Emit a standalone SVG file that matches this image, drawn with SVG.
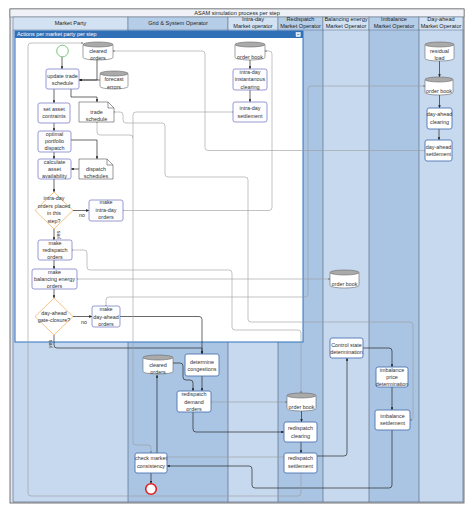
<svg xmlns="http://www.w3.org/2000/svg" width="474" height="514" viewBox="0 0 474 514">
<defs>
<marker id="arr" viewBox="0 0 6 6" refX="6" refY="3" markerWidth="4" markerHeight="4" orient="auto-start-reverse"><path d="M0,0 L6,3 L0,6 Z" fill="#222"/></marker>
<marker id="circ" viewBox="0 0 6 6" refX="3" refY="3" markerWidth="3.5" markerHeight="3.5"><circle cx="3" cy="3" r="2.2" fill="#fff" stroke="#555" stroke-width="1"/></marker>
<marker id="oarr" viewBox="0 0 6 6" refX="6" refY="3" markerWidth="4" markerHeight="4" orient="auto"><path d="M0,0.5 L6,3 L0,5.5" fill="none" stroke="#555" stroke-width="1"/></marker>
<style>
text{font-family:"Liberation Sans",Arial,sans-serif;font-size:5.4px;fill:#333;text-anchor:middle}
.hdr{font-size:5.6px;fill:#222}
.lite{fill:#c6d9ef}
.dark{fill:#aac5e3}
.hl{fill:#d2e2f3;stroke:#5a6a80;stroke-width:0.5}
.hd{fill:#b6cde8;stroke:#5a6a80;stroke-width:0.5}
.sep{stroke:#4d5d74;stroke-width:0.6}
.task{fill:#fdfdff;stroke:#7d82c6;stroke-width:0.8}
.task2{fill:#ffffff;stroke:#4f74b3;stroke-width:0.9}
.gw{fill:#fff;stroke:#f2b466;stroke-width:0.8}
.cyl{fill:#fff;stroke:#666;stroke-width:0.6}
.cyltop{fill:#aaa;stroke:#666;stroke-width:0.6}
.doc{fill:#fff;stroke:#555;stroke-width:0.6}
.seq{fill:none;stroke:#2a2a2a;stroke-width:0.7;marker-end:url(#arr)}
.msg{fill:none;stroke:#9a9a9a;stroke-width:0.6;marker-start:url(#circ);marker-end:url(#oarr)}
</style>
</defs>
<rect width="474" height="514" fill="#fff"/>
<g id="pool">
<rect x="10" y="9" width="454" height="494" fill="#dfe7f1" stroke="#555" stroke-width="0.8"/>
<rect x="10" y="9" width="454" height="8" fill="#eef2f7" stroke="#555" stroke-width="0.5"/>
<text x="237" y="15.2" class="hdr">ASAM simulation process per step</text>
<rect x="13" y="30" width="115" height="472" class="lite"/>
<rect x="128" y="30" width="100" height="472" class="dark"/>
<rect x="228" y="30" width="50" height="472" class="lite"/>
<rect x="278" y="30" width="45" height="472" class="dark"/>
<rect x="323" y="30" width="46" height="472" class="lite"/>
<rect x="369" y="30" width="50" height="472" class="dark"/>
<rect x="419" y="30" width="44" height="472" class="lite"/>
<rect x="13" y="17" width="115" height="13" class="hl"/>
<rect x="128" y="17" width="100" height="13" class="hd"/>
<rect x="228" y="17" width="50" height="13" class="hl"/>
<rect x="278" y="17" width="45" height="13" class="hd"/>
<rect x="323" y="17" width="46" height="13" class="hl"/>
<rect x="369" y="17" width="50" height="13" class="hd"/>
<rect x="419" y="17" width="44" height="13" class="hl"/>
<text x="70.5" y="25.3" class="hdr">Market Party</text>
<text x="178" y="25.3" class="hdr">Grid &amp; System Operator</text>
<text x="253" y="21" class="hdr">Intra-day</text><text x="253" y="28" class="hdr">Market operator</text>
<text x="300.5" y="21" class="hdr">Redispatch</text><text x="300.5" y="28" class="hdr">Market Operator</text>
<text x="346" y="21" class="hdr">Balancing energy</text><text x="346" y="28" class="hdr">Market Operator</text>
<text x="394" y="21" class="hdr">Imbalance</text><text x="394" y="28" class="hdr">Market Operator</text>
<text x="441" y="21" class="hdr">Day-ahead</text><text x="441" y="28" class="hdr">Market Operator</text>
<line x1="13" y1="30" x2="13" y2="502" class="sep"/>
<line x1="128" y1="30" x2="128" y2="502" class="sep"/>
<line x1="228" y1="30" x2="228" y2="502" class="sep"/>
<line x1="278" y1="30" x2="278" y2="502" class="sep"/>
<line x1="323" y1="30" x2="323" y2="502" class="sep"/>
<line x1="369" y1="30" x2="369" y2="502" class="sep"/>
<line x1="419" y1="30" x2="419" y2="502" class="sep"/>
<line x1="463" y1="30" x2="463" y2="502" class="sep"/>
<line x1="13" y1="502" x2="463" y2="502" class="sep"/>
</g>
<g id="subprocess">
<rect x="15" y="31" width="288" height="311" fill="#fff" stroke="#2e72bd" stroke-width="1"/>
<rect x="15" y="31" width="288" height="7" fill="#2f70b7"/>
<text x="17" y="36.4" style="fill:#fff;text-anchor:start;font-size:5.4px">Actions per market party per step</text>
<rect x="296" y="32.3" width="4.4" height="4.4" fill="#dfe9f5" stroke="#fff" stroke-width="0.4"/>
<line x1="297" y1="34.5" x2="299.4" y2="34.5" stroke="#2f70b7" stroke-width="0.6"/>
</g>
<g id="connectors">
<path class="seq" d="M62,57 V69"/>
<path class="seq" d="M97,60 V80 H79"/>
<path class="seq" d="M100,80 H79"/>
<path class="seq" d="M54,89 V103"/>
<path class="seq" d="M71,89 V97 H97 V102"/>
<path class="seq" d="M54,123 V131"/>
<path class="seq" d="M71,140 H97 V159"/>
<path class="seq" d="M54,152 V159"/>
<path class="seq" d="M79,169 H71" style="marker-start:url(#circ)"/>
<path class="seq" d="M54,179 V192"/>
<path class="seq" d="M73,210.5 H89"/>
<path class="seq" d="M54,229 V240"/>
<path class="seq" d="M54,260 V269"/>
<path class="seq" d="M54,289 V298"/>
<path class="seq" d="M73,316.5 H92"/>
<path class="seq" d="M54,335 V345 Q54,348 57,348 H202 V354"/>
<path class="seq" d="M120,316.5 H199 Q202,316.5 202,319.5 V354"/>
<path class="seq" d="M173,363 H180 Q183,363 183,366 V377 Q183,380 186,380 H190 Q193,380 193,383 V391"/>
<path class="seq" d="M202,376 V391"/>
<path class="seq" d="M193,412 V429 Q193,432 196,432 H284"/>
<path class="seq" d="M301.5,411 V422"/>
<path class="seq" d="M301,442 V453"/>
<path class="seq" d="M317,456 H344 Q347,456 347,453 V358"/>
<path class="seq" d="M363,348 H389 Q392,348 392,351 V367"/>
<path class="seq" d="M392,387 V410"/>
<path class="seq" d="M392,430 V485 Q392,488 389,488 H255 Q252,488 252,485 V469 Q252,466 249,466 H167"/>
<path class="seq" d="M157,453 V375"/>
<path class="seq" d="M151,473 V483.5"/>
<path class="seq" d="M439.5,61 V77"/>
<path class="seq" d="M439.5,95 V108"/>
<path class="seq" d="M439,129 V140"/>
<path class="seq" d="M250,60 V69"/>
<path class="seq" d="M250,90 V102"/>
<path class="msg" d="M284,457 H167" style="marker-end:none"/>
<path class="msg" d="M211,402 H287"/>
<path class="msg" d="M301,473 V493 Q301,496 298,496 H31 Q28,496 28,493 V46 Q28,43 31,43 H83"/>
<path class="msg" d="M425,150.5 H208 Q205,150.5 205,147.5 V54 Q205,51 202,51 H113"/>
<path class="msg" d="M123,210.5 H269 Q272,210.5 272,207.5 V54 Q272,51 269,51 H265"/>
<path class="msg" d="M77,279 H330"/>
<path class="msg" d="M106,306 V300 Q106,297 109,297 H305 Q308,297 308,294 V89 Q308,86 311,86 H425"/>
<path class="msg" d="M72,250 H84 Q87,250 87,253 V267 Q87,270 90,270 H229 Q232,270 232,273 V327 Q232,330 235,330 H298 Q301,330 301,333 V393"/>
<path class="msg" d="M114,112 H120 Q123,112 123,115 V120 Q123,123 126,123 H162 Q165,123 165,126 V174 Q165,177 168,177 H245 Q248,177 248,180 V319 Q248,322 251,322 H410 Q413,322 413,325 V417 Q413,420 410,420"/>
<path class="msg" d="M233,112 H136 Q133,112 133,115 V442 Q133,445 136,445 H148 Q151,445 151,448 V453"/>
<path class="msg" d="M97,122 V132 Q97,135 100,135 H130 Q133,135 133,138" style="marker-end:none"/>
</g>
<g id="mp_start"><circle cx="62.5" cy="51" r="5.8" fill="#fff" stroke="#5cb860" stroke-width="0.8"/></g>
<g id="mp_cleared"><path class="cyl" d="M83,44.5 V57.5 A15,2.5 0 0 0 113,57.5 V44.5"/><ellipse class="cyltop" cx="98" cy="44.5" rx="15" ry="2.5"/><text x="98" y="53">cleared</text><text x="98" y="60">orders</text></g>
<g id="mp_forecast"><path class="cyl" d="M100,73.5 V86.5 A14,2.5 0 0 0 128,86.5 V73.5"/><ellipse class="cyltop" cx="114" cy="73.5" rx="14" ry="2.5"/><text x="114" y="81">forecast</text><text x="114" y="88.5">errors</text></g>
<g id="mp_update"><rect class="task" x="46" y="69" width="33" height="20" rx="2"/><text x="62.5" y="78">update trade</text><text x="62.5" y="85">schedule</text></g>
<g id="mp_tradesched"><path class="doc" d="M79,102 H108 L114,108 V122 H79 Z M108,102 V108 H114"/><text x="96.5" y="114">trade</text><text x="96.5" y="121">schedule</text></g>
<g id="mp_setasset"><rect class="task" x="38" y="103" width="32" height="20" rx="2"/><text x="54" y="110.5">set asset</text><text x="54" y="118">contraints</text></g>
<g id="mp_optimal"><rect class="task" x="38" y="131" width="33" height="21" rx="2"/><text x="54.5" y="135.5">optimal</text><text x="54.5" y="143">portfolio</text><text x="54.5" y="150.3">dispatch</text></g>
<g id="mp_calc"><rect class="task" x="38" y="159" width="33" height="20" rx="2"/><text x="54.5" y="164">calculate</text><text x="54.5" y="171.3">asset</text><text x="54.5" y="178.3">availability</text></g>
<g id="mp_dispsched"><path class="doc" d="M79,159 H107 L113,165 V179 H79 Z M107,159 V165 H113"/><text x="96" y="171">dispatch</text><text x="96" y="178">schedules</text></g>
<g id="mp_gw1"><polygon class="gw" points="54,192 73,210.5 54,229 35,210.5"/><text x="54" y="200.3">intra-day</text><text x="54" y="208">orders placed</text><text x="54" y="215.3">in this</text><text x="54" y="222.8">step?</text></g>
<text x="82" y="217">no</text>
<text x="0" y="0" transform="translate(59.5,235) rotate(-90)">yes</text>
<g id="mp_intra"><rect class="task" x="89" y="200" width="34" height="21" rx="2"/><text x="106" y="204.3">make</text><text x="106" y="211.8">intra-day</text><text x="106" y="219.3">orders</text></g>
<g id="mp_redisp"><rect class="task" x="38" y="240" width="34" height="20" rx="2"/><text x="55" y="245">make</text><text x="55" y="252">redispatch</text><text x="55" y="259">orders</text></g>
<g id="mp_balance"><rect class="task" x="32" y="269" width="45" height="20" rx="2"/><text x="54.5" y="274">make</text><text x="54.5" y="281.3">balancing energy</text><text x="54.5" y="288.3">orders</text></g>
<g id="mp_gw2"><polygon class="gw" points="54,298 73,316.5 54,335 35,316.5"/><text x="54" y="315">day-ahead</text><text x="54" y="322.3">gate-closure?</text></g>
<text x="84" y="324">no</text>
<text x="0" y="0" transform="translate(51.5,344) rotate(-90)">yes</text>
<g id="mp_dayahead"><rect class="task" x="92" y="306" width="28" height="21" rx="2"/><text x="106" y="310.8">make</text><text x="106" y="318.5">day-ahead</text><text x="106" y="326">orders</text></g>
<g id="id_orderbook"><path class="cyl" d="M235,44.5 V57.5 A15,2.5 0 0 0 265,57.5 V44.5"/><ellipse class="cyltop" cx="250" cy="44.5" rx="15" ry="2.5"/><text x="250" y="59">order book</text></g>
<g id="id_clearing"><rect class="task" x="233" y="69" width="34" height="21" rx="2"/><text x="250" y="74">intra-day</text><text x="250" y="81.3">instantanous</text><text x="250" y="88.5">clearing</text></g>
<g id="id_settle"><rect class="task" x="233" y="102" width="34" height="20" rx="2"/><text x="250" y="110.3">intra-day</text><text x="250" y="117.8">settlement</text></g>
<g id="da_residual"><path class="cyl" d="M425,44.5 V58.5 A14.5,2.5 0 0 0 454,58.5 V44.5"/><ellipse class="cyltop" cx="439.5" cy="44.5" rx="14.5" ry="2.5"/><text x="439.5" y="53">residual</text><text x="439.5" y="60.3">load</text></g>
<g id="da_orderbook"><path class="cyl" d="M425,79.5 V92.5 A14,2.5 0 0 0 453,92.5 V79.5"/><ellipse class="cyltop" cx="439" cy="79.5" rx="14" ry="2.5"/><text x="439" y="93">order book</text></g>
<g id="da_clearing"><rect class="task2" x="427" y="108" width="25" height="21" rx="2"/><text x="439.5" y="116">day-ahead</text><text x="439.5" y="123.5">clearing</text></g>
<g id="da_settle"><rect class="task2" x="425" y="140" width="27" height="21" rx="2"/><text x="438.5" y="148.5">day-ahead</text><text x="438.5" y="156">settlement</text></g>
<g id="be_orderbook"><path class="cyl" d="M330,272.5 V285.5 A14.5,2.5 0 0 0 359,285.5 V272.5"/><ellipse class="cyltop" cx="344.5" cy="272.5" rx="14.5" ry="2.5"/><text x="344.5" y="286">order book</text></g>
<g id="be_control"><rect class="task2" x="330" y="338" width="33" height="20" rx="2"/><text x="346.5" y="346.5">Control state</text><text x="346.5" y="354">determination</text></g>
<g id="im_price"><rect class="task2" x="376" y="367" width="32" height="20" rx="2"/><text x="392" y="371.5">imbalance</text><text x="392" y="379">price</text><text x="392" y="386">determination</text></g>
<g id="im_settle"><rect class="task2" x="375" y="410" width="35" height="20" rx="2"/><text x="392.5" y="418">imbalance</text><text x="392.5" y="425.3">settlement</text></g>
<g id="gs_cleared"><path class="cyl" d="M143,357.5 V371.5 A15,2.5 0 0 0 173,371.5 V357.5"/><ellipse class="cyltop" cx="158" cy="357.5" rx="15" ry="2.5"/><text x="158" y="367">cleared</text><text x="158" y="374">orders</text></g>
<g id="gs_determine"><rect class="task2" x="185" y="354" width="34" height="22" rx="2"/><text x="202" y="364">determine</text><text x="202" y="371.3">congestions</text></g>
<g id="gs_demand"><rect class="task2" x="177" y="391" width="34" height="21" rx="2"/><text x="194" y="396">redispatch</text><text x="194" y="403.5">demand</text><text x="194" y="411">orders</text></g>
<g id="gs_check"><rect class="task2" x="135" y="453" width="32" height="20" rx="2"/><text x="151" y="460">check market</text><text x="151" y="467.5">consistency</text></g>
<g id="gs_end"><circle cx="151" cy="489" r="5.3" fill="#fff" stroke="#e0201c" stroke-width="1.6"/></g>
<g id="rd_orderbook"><path class="cyl" d="M287,395.5 V408.5 A14.5,2.5 0 0 0 316,408.5 V395.5"/><ellipse class="cyltop" cx="301.5" cy="395.5" rx="14.5" ry="2.5"/><text x="301.5" y="409">order book</text></g>
<g id="rd_clearing"><rect class="task2" x="284" y="422" width="33" height="20" rx="2"/><text x="300.5" y="430">redispatch</text><text x="300.5" y="437.5">clearing</text></g>
<g id="rd_settle"><rect class="task2" x="284" y="453" width="33" height="20" rx="2"/><text x="300.5" y="460">redispatch</text><text x="300.5" y="467.5">settlement</text></g>
</svg>
